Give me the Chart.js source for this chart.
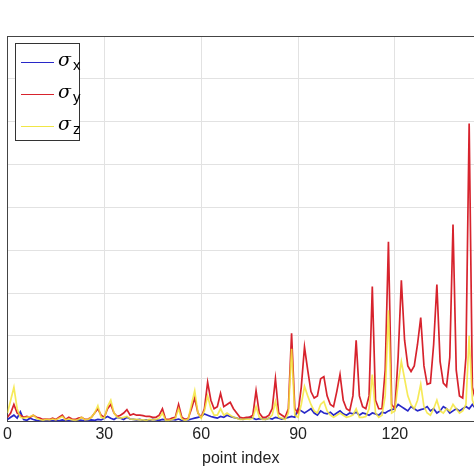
<!DOCTYPE html>
<html><head><meta charset="utf-8">
<script src="https://cdn.jsdelivr.net/npm/chart.js@4"></script>
<style>
html,body{margin:0;padding:0;background:#fff;}
#wrap{position:relative;width:474px;height:474px;}
#legend{position:absolute;left:15px;top:43px;width:63px;height:96px;border:1px solid #333;background:#fff;font-family:"DejaVu Serif",serif;font-size:19px;}
.row{position:absolute;left:5px;height:20px;}
.row span.l{position:absolute;left:0;top:10px;width:33px;height:0;border-top:1.5px solid;}
.row span.t{position:absolute;left:37px;top:-4px;font-style:italic;}
.row sub{font-style:normal;font-family:"Liberation Sans",sans-serif;font-size:15px;position:relative;top:4px;left:2px;vertical-align:baseline;}
</style></head><body>
<div id="wrap"><canvas id="c" width="474" height="474"></canvas>
<div id="legend">
<div class="row" style="top:8px"><span class="l" style="border-color:rgb(40,40,200)"></span><span class="t">σ<sub>x</sub></span></div>
<div class="row" style="top:40px"><span class="l" style="border-color:rgb(215,35,45)"></span><span class="t">σ<sub>y</sub></span></div>
<div class="row" style="top:72px"><span class="l" style="border-color:rgb(240,230,70)"></span><span class="t">σ<sub>z</sub></span></div>
</div></div>
<script>
const sigmaX=[0.05,0.1,0.15,0.08,0.23,0.05,0.03,0.08,0.05,0.03,
0.02,0.03,0.02,0.03,0.02,0.03,0.02,0.04,0.02,0.03,
0.02,0.03,0.04,0.03,0.02,0.03,0.04,0.03,0.05,0.04,
0.08,0.12,0.08,0.05,0.1,0.08,0.05,0.1,0.06,0.05,
0.04,0.05,0.03,0.04,0.03,0.05,0.04,0.03,0.05,0.04,
0.03,0.05,0.04,0.06,0.03,0.05,0.04,0.06,0.08,0.1,
0.12,0.18,0.15,0.12,0.1,0.08,0.12,0.1,0.15,0.12,
0.1,0.08,0.06,0.05,0.08,0.1,0.08,0.05,0.07,0.06,
0.05,0.08,0.06,0.1,0.08,0.06,0.08,0.1,0.12,0.1,
0.3,0.25,0.2,0.25,0.3,0.2,0.15,0.25,0.2,0.18,
0.22,0.15,0.2,0.25,0.18,0.15,0.2,0.18,0.22,0.15,
0.2,0.18,0.15,0.2,0.18,0.15,0.22,0.2,0.25,0.28,
0.3,0.4,0.35,0.3,0.25,0.35,0.3,0.25,0.28,0.3,
0.35,0.25,0.3,0.2,0.25,0.35,0.3,0.2,0.25,0.3,
0.25,0.3,0.35,0.3,0.4,0.3];
const sigmaY=[0.1,0.2,0.4,0.2,0.15,0.1,0.12,0.1,0.15,0.1,
0.08,0.05,0.06,0.05,0.08,0.05,0.1,0.15,0.05,0.1,
0.06,0.05,0.08,0.1,0.05,0.06,0.1,0.2,0.3,0.15,
0.1,0.3,0.4,0.2,0.12,0.15,0.2,0.28,0.15,0.18,
0.15,0.15,0.14,0.12,0.12,0.1,0.1,0.15,0.3,0.05,
0.05,0.08,0.1,0.4,0.1,0.05,0.08,0.3,0.55,0.2,
0.1,0.3,0.92,0.5,0.3,0.35,0.66,0.35,0.4,0.45,
0.3,0.2,0.1,0.08,0.1,0.1,0.15,0.72,0.2,0.1,
0.1,0.15,0.3,1.0,0.2,0.15,0.1,0.3,2.06,0.3,
0.2,0.8,1.74,1.2,0.7,0.55,0.6,1.0,1.05,0.6,
0.4,0.35,0.7,1.1,0.5,0.3,0.25,0.6,1.9,0.6,
0.35,0.3,0.6,3.15,0.5,0.3,0.3,1.2,4.2,0.4,
0.3,1.5,3.3,1.9,1.3,1.17,1.3,1.8,2.43,1.3,
0.87,0.9,1.8,3.2,1.4,0.9,0.82,1.5,4.6,1.2,
0.6,0.55,1.5,6.96,0.8,0.5];
const sigmaZ=[0.2,0.5,0.8,0.3,0.1,0.08,0.1,0.12,0.15,0.08,
0.05,0.03,0.05,0.04,0.06,0.04,0.08,0.12,0.04,0.06,
0.04,0.03,0.05,0.1,0.04,0.05,0.1,0.2,0.37,0.1,
0.08,0.35,0.5,0.2,0.1,0.08,0.1,0.12,0.06,0.05,
0.05,0.04,0.04,0.03,0.05,0.04,0.05,0.08,0.2,0.03,
0.03,0.05,0.08,0.3,0.06,0.03,0.06,0.4,0.72,0.2,
0.08,0.25,0.6,0.3,0.15,0.15,0.3,0.15,0.2,0.15,
0.1,0.08,0.05,0.05,0.06,0.05,0.08,0.35,0.1,0.05,
0.05,0.08,0.15,0.47,0.1,0.08,0.05,0.2,1.7,0.15,
0.1,0.4,0.82,0.6,0.4,0.25,0.2,0.4,0.47,0.25,
0.15,0.1,0.15,0.2,0.15,0.1,0.12,0.15,0.3,0.1,
0.1,0.12,0.3,1.1,0.2,0.1,0.15,0.6,2.6,0.2,
0.25,0.9,1.4,1.0,0.6,0.4,0.3,0.5,0.87,0.35,
0.2,0.15,0.3,0.5,0.25,0.2,0.3,0.25,0.4,0.3,
0.2,0.25,0.4,2.0,0.5,0.3];
const xTicks=[0,30,60,90,120];
const xLabel="point index";
const idx=sigmaX.map((_,i)=>i);
const toPts=a=>a.map((v,i)=>({x:idx[i],y:v}));
const topLine={id:'topLine',afterDraw(c){const a=c.chartArea,ctx=c.ctx;ctx.save();ctx.strokeStyle='#444';ctx.lineWidth=1;ctx.beginPath();ctx.moveTo(a.left,a.top+0.5);ctx.lineTo(a.right,a.top+0.5);ctx.stroke();ctx.restore();}};
new Chart(document.getElementById('c'),{type:'line',
data:{datasets:[
{label:'σx',data:toPts(sigmaX),borderColor:'rgb(40,40,200)',borderWidth:1.7,pointRadius:0,tension:0,order:3},
{label:'σy',data:toPts(sigmaY),borderColor:'rgb(215,35,45)',borderWidth:1.7,pointRadius:0,tension:0,order:2},
{label:'σz',data:toPts(sigmaZ),borderColor:'rgba(245,230,60,0.85)',borderWidth:1.7,pointRadius:0,tension:0,order:1}
]},
options:{responsive:false,animation:false,devicePixelRatio:1,
layout:{padding:{left:1,top:36,right:0,bottom:6}},
plugins:{legend:{display:false},tooltip:{enabled:false}},
scales:{
x:{type:'linear',min:0,max:144.5,afterBuildTicks:ax=>{ax.ticks=xTicks.map(v=>({value:v}));},
 grid:{color:'#e2e2e2',drawTicks:false},border:{color:'#444'},
 ticks:{color:'#222',font:{family:'Liberation Sans',size:16},padding:3,maxRotation:0},
 title:{display:true,text:xLabel,color:'#222',font:{family:'Liberation Sans',size:16},padding:{top:2,bottom:0}}},
y:{min:0,max:9,ticks:{display:false,stepSize:1},grid:{color:'#e2e2e2',drawTicks:false},border:{color:'#444'}}
}},plugins:[topLine]});
</script></body></html>
